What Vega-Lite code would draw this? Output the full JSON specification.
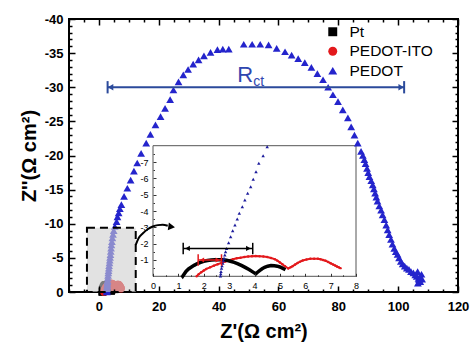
{
  "$schema": "https://vega.github.io/schema/vega-lite/v6.json",
  "width": 389,
  "height": 273,
  "autosize": "none",
  "padding": {"left": 69, "top": 19, "right": 16, "bottom": 63},
  "background": "white",
  "config": {"view": {"stroke": "black", "strokeWidth": 2}, "font": "Liberation Sans"},
  "data": {"values": [{}]},
  "datasets": {
    "pts": [
      {"s": "Pt", "x": 1.13, "y": -0.08}, {"s": "Pt", "x": 1.17, "y": 0}, {"s": "Pt", "x": 1.3, "y": -0.3}, {"s": "Pt", "x": 1.4, "y": -0.45}, {"s": "Pt", "x": 1.5, "y": -0.55}, {"s": "Pt", "x": 1.62, "y": -0.67}, {"s": "Pt", "x": 1.75, "y": -0.78}, {"s": "Pt", "x": 1.88, "y": -0.86}, {"s": "Pt", "x": 2.0, "y": -0.92}, {"s": "Pt", "x": 2.15, "y": -0.97}, {"s": "Pt", "x": 2.3, "y": -1.0}, {"s": "Pt", "x": 2.45, "y": -1.02}, {"s": "Pt", "x": 2.6, "y": -1.02}, {"s": "Pt", "x": 2.75, "y": -1.01}, {"s": "Pt", "x": 2.9, "y": -0.98}, {"s": "Pt", "x": 3.05, "y": -0.92}, {"s": "Pt", "x": 3.2, "y": -0.85}, {"s": "Pt", "x": 3.35, "y": -0.76}, {"s": "Pt", "x": 3.5, "y": -0.65}, {"s": "Pt", "x": 3.65, "y": -0.53}, {"s": "Pt", "x": 3.8, "y": -0.4}, {"s": "Pt", "x": 3.93, "y": -0.27}, {"s": "Pt", "x": 4.05, "y": -0.15}, {"s": "Pt", "x": 4.12, "y": -0.25}, {"s": "Pt", "x": 4.2, "y": -0.35}, {"s": "Pt", "x": 4.3, "y": -0.46}, {"s": "Pt", "x": 4.4, "y": -0.55}, {"s": "Pt", "x": 4.52, "y": -0.62}, {"s": "Pt", "x": 4.65, "y": -0.66}, {"s": "Pt", "x": 4.78, "y": -0.65}, {"s": "Pt", "x": 4.9, "y": -0.62}, {"s": "Pt", "x": 5.0, "y": -0.57}, {"s": "Pt", "x": 5.1, "y": -0.5}, {"s": "Pt", "x": 5.22, "y": -0.4},
      {"s": "PEDOT-ITO", "x": 1.72, "y": 0}, {"s": "PEDOT-ITO", "x": 1.8, "y": -0.13}, {"s": "PEDOT-ITO", "x": 1.9, "y": -0.25}, {"s": "PEDOT-ITO", "x": 2.0, "y": -0.35}, {"s": "PEDOT-ITO", "x": 2.1, "y": -0.45}, {"s": "PEDOT-ITO", "x": 2.25, "y": -0.55}, {"s": "PEDOT-ITO", "x": 2.4, "y": -0.65}, {"s": "PEDOT-ITO", "x": 2.55, "y": -0.74}, {"s": "PEDOT-ITO", "x": 2.7, "y": -0.82}, {"s": "PEDOT-ITO", "x": 2.85, "y": -0.9}, {"s": "PEDOT-ITO", "x": 3.0, "y": -0.98}, {"s": "PEDOT-ITO", "x": 3.15, "y": -1.04}, {"s": "PEDOT-ITO", "x": 3.3, "y": -1.1}, {"s": "PEDOT-ITO", "x": 3.45, "y": -1.14}, {"s": "PEDOT-ITO", "x": 3.6, "y": -1.18}, {"s": "PEDOT-ITO", "x": 3.75, "y": -1.21}, {"s": "PEDOT-ITO", "x": 3.9, "y": -1.23}, {"s": "PEDOT-ITO", "x": 4.05, "y": -1.24}, {"s": "PEDOT-ITO", "x": 4.2, "y": -1.23}, {"s": "PEDOT-ITO", "x": 4.35, "y": -1.21}, {"s": "PEDOT-ITO", "x": 4.5, "y": -1.18}, {"s": "PEDOT-ITO", "x": 4.65, "y": -1.12}, {"s": "PEDOT-ITO", "x": 4.8, "y": -1.05}, {"s": "PEDOT-ITO", "x": 4.9, "y": -0.96}, {"s": "PEDOT-ITO", "x": 5.0, "y": -0.85}, {"s": "PEDOT-ITO", "x": 5.1, "y": -0.74}, {"s": "PEDOT-ITO", "x": 5.2, "y": -0.62}, {"s": "PEDOT-ITO", "x": 5.33, "y": -0.48}, {"s": "PEDOT-ITO", "x": 5.42, "y": -0.55}, {"s": "PEDOT-ITO", "x": 5.5, "y": -0.62}, {"s": "PEDOT-ITO", "x": 5.6, "y": -0.72}, {"s": "PEDOT-ITO", "x": 5.7, "y": -0.82}, {"s": "PEDOT-ITO", "x": 5.8, "y": -0.9}, {"s": "PEDOT-ITO", "x": 5.9, "y": -0.97}, {"s": "PEDOT-ITO", "x": 6.05, "y": -1.03}, {"s": "PEDOT-ITO", "x": 6.2, "y": -1.07}, {"s": "PEDOT-ITO", "x": 6.35, "y": -1.08}, {"s": "PEDOT-ITO", "x": 6.5, "y": -1.07}, {"s": "PEDOT-ITO", "x": 6.6, "y": -1.04}, {"s": "PEDOT-ITO", "x": 6.7, "y": -1.0}, {"s": "PEDOT-ITO", "x": 6.8, "y": -0.95}, {"s": "PEDOT-ITO", "x": 6.9, "y": -0.88}, {"s": "PEDOT-ITO", "x": 7.0, "y": -0.8}, {"s": "PEDOT-ITO", "x": 7.1, "y": -0.72}, {"s": "PEDOT-ITO", "x": 7.18, "y": -0.66}, {"s": "PEDOT-ITO", "x": 7.25, "y": -0.6}, {"s": "PEDOT-ITO", "x": 7.32, "y": -0.55}, {"s": "PEDOT-ITO", "x": 7.39, "y": -0.5},
      {"s": "PEDOT", "x": 2.66, "y": -0.02}, {"s": "PEDOT", "x": 2.67, "y": -0.15}, {"s": "PEDOT", "x": 2.68, "y": -0.3}, {"s": "PEDOT", "x": 2.7, "y": -0.49}, {"s": "PEDOT", "x": 2.72, "y": -0.65}, {"s": "PEDOT", "x": 2.75, "y": -0.8}, {"s": "PEDOT", "x": 2.77, "y": -0.95}, {"s": "PEDOT", "x": 2.8, "y": -1.1}, {"s": "PEDOT", "x": 2.83, "y": -1.3}, {"s": "PEDOT", "x": 2.86, "y": -1.5}, {"s": "PEDOT", "x": 2.9, "y": -1.71}, {"s": "PEDOT", "x": 2.98, "y": -2.06}, {"s": "PEDOT", "x": 3.06, "y": -2.42}, {"s": "PEDOT", "x": 3.14, "y": -2.79}, {"s": "PEDOT", "x": 3.23, "y": -3.14}, {"s": "PEDOT", "x": 3.32, "y": -3.51}, {"s": "PEDOT", "x": 3.4, "y": -3.86}, {"s": "PEDOT", "x": 3.52, "y": -4.26}, {"s": "PEDOT", "x": 3.62, "y": -4.67}, {"s": "PEDOT", "x": 3.73, "y": -5.08}, {"s": "PEDOT", "x": 3.85, "y": -5.49}, {"s": "PEDOT", "x": 3.95, "y": -5.94}, {"s": "PEDOT", "x": 4.06, "y": -6.41}, {"s": "PEDOT", "x": 4.17, "y": -6.92}, {"s": "PEDOT", "x": 4.34, "y": -7.39}, {"s": "PEDOT", "x": 4.5, "y": -7.94},
      {"s": "PEDOT", "x": 4.7, "y": -8.45}, {"s": "PEDOT", "x": 4.95, "y": -9.0}, {"s": "PEDOT", "x": 5.3, "y": -9.6}, {"s": "PEDOT", "x": 5.9, "y": -10.3}, {"s": "PEDOT", "x": 6.2, "y": -11.0}, {"s": "PEDOT", "x": 6.6, "y": -11.6}, {"s": "PEDOT", "x": 7.0, "y": -12.2}, {"s": "PEDOT", "x": 7.5, "y": -12.8}, {"s": "PEDOT", "x": 8.4, "y": -14.0}, {"s": "PEDOT", "x": 9.5, "y": -15.2}, {"s": "PEDOT", "x": 10.6, "y": -16.4}, {"s": "PEDOT", "x": 11.7, "y": -17.7}, {"s": "PEDOT", "x": 12.8, "y": -18.9}, {"s": "PEDOT", "x": 14.1, "y": -20.3}, {"s": "PEDOT", "x": 15.8, "y": -21.8}, {"s": "PEDOT", "x": 17.2, "y": -23.1}, {"s": "PEDOT", "x": 18.9, "y": -24.5}, {"s": "PEDOT", "x": 20.6, "y": -25.7}, {"s": "PEDOT", "x": 22.1, "y": -26.9}, {"s": "PEDOT", "x": 23.8, "y": -28.2}, {"s": "PEDOT", "x": 24.9, "y": -29.6}, {"s": "PEDOT", "x": 26.6, "y": -30.8}, {"s": "PEDOT", "x": 28.2, "y": -31.8}, {"s": "PEDOT", "x": 29.8, "y": -32.6}, {"s": "PEDOT", "x": 31.5, "y": -33.4}, {"s": "PEDOT", "x": 33.3, "y": -34.0}, {"s": "PEDOT", "x": 35.1, "y": -34.6}, {"s": "PEDOT", "x": 37.3, "y": -35.1}, {"s": "PEDOT", "x": 39.6, "y": -35.5}, {"s": "PEDOT", "x": 41.4, "y": -35.6}, {"s": "PEDOT", "x": 43.4, "y": -35.6}, {"s": "PEDOT", "x": 48.4, "y": -36.3}, {"s": "PEDOT", "x": 51.2, "y": -36.3}, {"s": "PEDOT", "x": 53.9, "y": -36.3}, {"s": "PEDOT", "x": 56.7, "y": -36.2}, {"s": "PEDOT", "x": 59.4, "y": -35.7}, {"s": "PEDOT", "x": 62.2, "y": -35.2}, {"s": "PEDOT", "x": 64.4, "y": -34.7}, {"s": "PEDOT", "x": 66.6, "y": -34.2}, {"s": "PEDOT", "x": 68.8, "y": -33.6}, {"s": "PEDOT", "x": 71.0, "y": -32.9}, {"s": "PEDOT", "x": 73.0, "y": -32.0}, {"s": "PEDOT", "x": 74.9, "y": -31.1}, {"s": "PEDOT", "x": 76.6, "y": -30.0}, {"s": "PEDOT", "x": 78.2, "y": -28.9}, {"s": "PEDOT", "x": 79.9, "y": -27.9}, {"s": "PEDOT", "x": 81.5, "y": -26.7}, {"s": "PEDOT", "x": 83.2, "y": -25.5}, {"s": "PEDOT", "x": 84.3, "y": -24.2}, {"s": "PEDOT", "x": 85.4, "y": -23.0}, {"s": "PEDOT", "x": 86.5, "y": -21.8}, {"s": "PEDOT", "x": 87.6, "y": -20.6}, {"s": "PEDOT", "x": 88.2, "y": -20.0}, {"s": "PEDOT", "x": 88.7, "y": -19.4}, {"s": "PEDOT", "x": 89.1, "y": -18.8}, {"s": "PEDOT", "x": 89.6, "y": -18.1}, {"s": "PEDOT", "x": 90.0, "y": -17.5}, {"s": "PEDOT", "x": 90.4, "y": -16.9}, {"s": "PEDOT", "x": 91.0, "y": -16.3}, {"s": "PEDOT", "x": 91.5, "y": -15.7}, {"s": "PEDOT", "x": 91.9, "y": -15.1}, {"s": "PEDOT", "x": 92.3, "y": -14.5}, {"s": "PEDOT", "x": 92.7, "y": -13.9}, {"s": "PEDOT", "x": 93.1, "y": -13.3}, {"s": "PEDOT", "x": 93.7, "y": -12.6}, {"s": "PEDOT", "x": 94.3, "y": -12.0}, {"s": "PEDOT", "x": 94.8, "y": -11.3}, {"s": "PEDOT", "x": 95.4, "y": -10.6}, {"s": "PEDOT", "x": 96.0, "y": -9.8}, {"s": "PEDOT", "x": 96.5, "y": -9.1}, {"s": "PEDOT", "x": 97.0, "y": -8.4}, {"s": "PEDOT", "x": 97.6, "y": -7.7}, {"s": "PEDOT", "x": 98.1, "y": -7.0}, {"s": "PEDOT", "x": 98.7, "y": -6.4}, {"s": "PEDOT", "x": 99.2, "y": -5.9}, {"s": "PEDOT", "x": 99.8, "y": -5.5}, {"s": "PEDOT", "x": 100.3, "y": -5.0}, {"s": "PEDOT", "x": 100.9, "y": -4.5}, {"s": "PEDOT", "x": 101.5, "y": -4.1}, {"s": "PEDOT", "x": 102.2, "y": -3.8}, {"s": "PEDOT", "x": 102.9, "y": -3.5}, {"s": "PEDOT", "x": 103.6, "y": -3.3}, {"s": "PEDOT", "x": 104.3, "y": -3.0}, {"s": "PEDOT", "x": 105.1, "y": -2.8}, {"s": "PEDOT", "x": 105.7, "y": -2.5}, {"s": "PEDOT", "x": 106.2, "y": -2.3}, {"s": "PEDOT", "x": 106.8, "y": -2.0}, {"s": "PEDOT", "x": 107.0, "y": -1.8}, {"s": "PEDOT", "x": 107.4, "y": -1.5}, {"s": "PEDOT", "x": 106.6, "y": -1.3}, {"s": "PEDOT", "x": 107.5, "y": -2.0}, {"s": "PEDOT", "x": 107.8, "y": -2.6}, {"s": "PEDOT", "x": 106.5, "y": -3.0}, {"s": "PEDOT", "x": 108.0, "y": -1.9}
    ],
    "curve": [
      {"x": 12.3, "y": -6.9}, {"x": 13.3, "y": -7.9}, {"x": 14.7, "y": -8.6}, {"x": 16.3, "y": -9.2}, {"x": 18.0, "y": -9.6}, {"x": 19.7, "y": -9.8}, {"x": 21.3, "y": -9.85}, {"x": 23.0, "y": -9.7}
    ]
  },
  "layer": [
    {
      "layer": [
        {
          "mark": {"type": "rect", "fill": "white", "stroke": "#555555", "strokeWidth": 1},
          "encoding": {
            "x": {"datum": 0, "type": "quantitative",
              "scale": {"domain": [0, 8], "range": [84, 287], "nice": false, "zero": false},
              "axis": {"orient": "bottom", "offset": -15.7, "values": [0, 1, 2, 3, 4, 5, 6, 7, 8],
                "labelExpr": "'' + datum.value",
                "tickSize": -3, "tickColor": "#333333", "domain": false, "grid": false, "labelFont": "Liberation Sans", "labelFontSize": 9, "labelColor": "black",
                "labelPadding": 8, "labelOverlap": false, "labelFlush": false, "labelBound": false, "title": null, "zindex": 2}},
            "x2": {"datum": 8},
            "y": {"datum": 0, "type": "quantitative",
              "scale": {"domain": [0, -8], "range": [257.3, 126.7], "nice": false, "zero": false},
              "axis": {"orient": "left", "offset": -84, "values": [-1, -2, -3, -4, -5, -6, -7],
                "labelExpr": "'' + datum.value",
                "tickSize": -3, "tickColor": "#333333", "domain": false, "grid": false, "labelFont": "Liberation Sans", "labelFontSize": 9, "labelColor": "black",
                "labelPadding": 8, "labelOverlap": false, "labelFlush": false, "labelBound": false, "title": null, "zindex": 2}},
            "y2": {"datum": -8}
          }
        },
        {
          "mark": {"type": "point", "opacity": 0},
          "encoding": {
            "x": {"datum": 0, "type": "quantitative",
              "axis": {"orient": "bottom", "offset": -15.7, "values": [0.5, 1.5, 2.5, 3.5, 4.5, 5.5, 6.5, 7.5], "labels": false, "title": null, "domain": false, "grid": false, "tickSize": -1.5, "tickColor": "#333333", "zindex": 2}},
            "y": {"datum": 0, "type": "quantitative",
              "axis": {"orient": "left", "offset": -84, "values": [-0.5, -1.5, -2.5, -3.5, -4.5, -5.5, -6.5, -7.5], "labels": false, "title": null, "domain": false, "grid": false, "tickSize": -1.5, "tickColor": "#333333", "zindex": 2}}
          }
        },
        {
          "data": {"name": "pts"},
          "transform": [{"filter": "datum.s === 'PEDOT-ITO'"}],
          "mark": {"type": "line", "color": "#e3191c", "strokeWidth": 2, "point": {"filled": true, "size": 6, "color": "#e3191c"}},
          "encoding": {"x": {"field": "x", "type": "quantitative", "axis": null}, "y": {"field": "y", "type": "quantitative", "axis": null}}
        },
        {
          "data": {"name": "pts"},
          "transform": [{"filter": "datum.s === 'Pt'"}],
          "mark": {"type": "line", "color": "black", "strokeWidth": 3.5},
          "encoding": {"x": {"field": "x", "type": "quantitative", "axis": null}, "y": {"field": "y", "type": "quantitative", "axis": null}}
        },
        {
          "data": {"name": "pts"},
          "transform": [{"filter": "datum.s === 'PEDOT' && datum.y >= -8.1 && datum.x <= 8"}],
          "mark": {"type": "point", "shape": "triangle-up", "filled": true, "size": 12, "color": "#1c1c9c", "opacity": 1},
          "encoding": {"x": {"field": "x", "type": "quantitative", "axis": null}, "y": {"field": "y", "type": "quantitative", "axis": null}}
        },
        {
          "mark": {"type": "rule", "color": "black", "strokeWidth": 1.5},
          "encoding": {"x": {"datum": 1.19, "axis": null}, "x2": {"datum": 3.93}, "y": {"datum": -1.71, "axis": null}}
        },
        {
          "mark": {"type": "rule", "color": "black", "strokeWidth": 1.5},
          "encoding": {"x": {"datum": 1.19, "axis": null}, "y": {"datum": -1.35, "axis": null}, "y2": {"datum": -2.05}}
        },
        {
          "mark": {"type": "rule", "color": "black", "strokeWidth": 1.5},
          "encoding": {"x": {"datum": 3.93, "axis": null}, "y": {"datum": -1.35, "axis": null}, "y2": {"datum": -2.05}}
        },
        {
          "mark": {"type": "point", "shape": "triangle-left", "filled": true, "size": 30, "color": "black", "opacity": 1},
          "encoding": {"x": {"datum": 1.36, "axis": null}, "y": {"datum": -1.71, "axis": null}}
        },
        {
          "mark": {"type": "point", "shape": "triangle-right", "filled": true, "size": 30, "color": "black", "opacity": 1},
          "encoding": {"x": {"datum": 3.76, "axis": null}, "y": {"datum": -1.71, "axis": null}}
        },
        {
          "mark": {"type": "rule", "color": "#e3191c", "strokeWidth": 1.5},
          "encoding": {"x": {"datum": 1.78, "axis": null}, "x2": {"datum": 2.7}, "y": {"datum": -1.0, "axis": null}}
        },
        {
          "mark": {"type": "rule", "color": "#e3191c", "strokeWidth": 1.5},
          "encoding": {"x": {"datum": 1.78, "axis": null}, "y": {"datum": -0.65, "axis": null}, "y2": {"datum": -1.35}}
        },
        {
          "mark": {"type": "rule", "color": "#e3191c", "strokeWidth": 1.5},
          "encoding": {"x": {"datum": 2.7, "axis": null}, "y": {"datum": -0.65, "axis": null}, "y2": {"datum": -1.35}}
        },
        {
          "mark": {"type": "point", "shape": "triangle-left", "filled": true, "size": 24, "color": "#e3191c", "opacity": 1},
          "encoding": {"x": {"datum": 1.93, "axis": null}, "y": {"datum": -1.0, "axis": null}}
        },
        {
          "mark": {"type": "point", "shape": "triangle-right", "filled": true, "size": 24, "color": "#e3191c", "opacity": 1},
          "encoding": {"x": {"datum": 2.55, "axis": null}, "y": {"datum": -1.0, "axis": null}}
        }
      ],
      "resolve": {"axis": {"x": "independent", "y": "independent"}}
    },
    {
      "layer": [
        {
          "data": {"name": "pts"},
          "mark": {"type": "point", "filled": true, "size": 60, "opacity": 1},
          "encoding": {
            "x": {"field": "x", "type": "quantitative",
              "scale": {"domain": [-10, 120], "nice": false, "zero": false},
              "axis": {"orient": "bottom", "values": [0, 20, 40, 60, 80, 100, 120],
                "labelExpr": "'' + datum.value",
                "tickSize": -6, "tickWidth": 1.5, "tickColor": "black", "domain": false, "grid": false,
                "labelFont": "Liberation Sans", "labelFontWeight": "bold", "labelFontSize": 13, "labelColor": "black",
                "labelPadding": 14, "labelOverlap": false, "labelFlush": false, "labelBound": false,
                "title": "Z'(Ω cm²)", "titleFont": "Liberation Sans", "titleFontWeight": "bold", "titleFontSize": 20, "titleColor": "black", "titlePadding": 8, "zindex": 1}},
            "y": {"field": "y", "type": "quantitative",
              "scale": {"domain": [0, -40], "nice": false, "zero": false},
              "axis": {"orient": "left", "values": [0, -5, -10, -15, -20, -25, -30, -35, -40],
                "labelExpr": "'' + datum.value",
                "tickSize": -6, "tickWidth": 1.5, "tickColor": "black", "domain": false, "grid": false,
                "labelFont": "Liberation Sans", "labelFontWeight": "bold", "labelFontSize": 13, "labelColor": "black",
                "labelPadding": 12, "labelOverlap": false, "labelFlush": false, "labelBound": false,
                "title": "Z''(Ω cm²)", "titleFont": "Liberation Sans", "titleFontWeight": "bold", "titleFontSize": 20, "titleColor": "black", "titlePadding": 5, "zindex": 1}},
            "color": {"field": "s", "type": "nominal",
              "scale": {"domain": ["Pt", "PEDOT-ITO", "PEDOT"], "range": ["#000000", "#e3191c", "#2424cc"]},
              "legend": {"orient": "none", "legendX": 256, "legendY": 5, "title": null, "labelExpr": "datum.label === 'Pt' ? '\u00a0Pt' : datum.label", "labelFont": "Liberation Sans", "labelFontSize": 15.5, "labelColor": "black", "symbolSize": 80, "symbolStrokeWidth": 0, "rowPadding": 2.5, "labelOffset": 9}},
            "shape": {"field": "s", "type": "nominal",
              "scale": {"domain": ["Pt", "PEDOT-ITO", "PEDOT"], "range": ["square", "circle", "triangle-up"]}}
          }
        },
        {
          "mark": {"type": "rect", "fill": "#cfcfcf", "fillOpacity": 0.6, "stroke": "black", "strokeWidth": 2, "strokeDash": [8, 5]},
          "encoding": {"x": {"datum": -4, "axis": null}, "x2": {"datum": 12.3}, "y": {"datum": 0, "axis": null}, "y2": {"datum": -9.4}}
        },
        {
          "mark": {"type": "rule", "color": "#2b4a9b", "strokeWidth": 2},
          "encoding": {"x": {"datum": 2.9, "axis": null}, "x2": {"datum": 102}, "y": {"datum": -30, "axis": null}}
        },
        {
          "mark": {"type": "rule", "color": "#2b4a9b", "strokeWidth": 2},
          "encoding": {"x": {"datum": 2.9, "axis": null}, "y": {"datum": -29.1, "axis": null}, "y2": {"datum": -30.9}}
        },
        {
          "mark": {"type": "rule", "color": "#2b4a9b", "strokeWidth": 2},
          "encoding": {"x": {"datum": 102, "axis": null}, "y": {"datum": -29.1, "axis": null}, "y2": {"datum": -30.9}}
        },
        {
          "mark": {"type": "point", "shape": "triangle-left", "filled": true, "size": 40, "color": "#2b4a9b", "opacity": 1},
          "encoding": {"x": {"datum": 3.9, "axis": null}, "y": {"datum": -30, "axis": null}}
        },
        {
          "mark": {"type": "point", "shape": "triangle-right", "filled": true, "size": 40, "color": "#2b4a9b", "opacity": 1},
          "encoding": {"x": {"datum": 101, "axis": null}, "y": {"datum": -30, "axis": null}}
        },
        {
          "mark": {"type": "text", "text": "R", "font": "Liberation Sans", "fontSize": 22, "color": "#3046b0", "align": "left", "baseline": "alphabetic"},
          "encoding": {"x": {"datum": 46.2, "axis": null}, "y": {"datum": -30.7, "axis": null}}
        },
        {
          "mark": {"type": "text", "text": "ct", "font": "Liberation Sans", "fontSize": 14, "color": "#3046b0", "align": "left", "baseline": "alphabetic"},
          "encoding": {"x": {"datum": 51.6, "axis": null}, "y": {"datum": -30.2, "axis": null}}
        },
        {
          "data": {"name": "curve"},
          "mark": {"type": "line", "color": "black", "strokeWidth": 2, "interpolate": "monotone"},
          "encoding": {"x": {"field": "x", "type": "quantitative", "axis": null}, "y": {"field": "y", "type": "quantitative", "axis": null}}
        },
        {
          "mark": {"type": "point", "shape": "triangle-right", "filled": true, "size": 60, "color": "black", "opacity": 1, "angle": 8},
          "encoding": {"x": {"datum": 24.3, "axis": null}, "y": {"datum": -9.55, "axis": null}}
        },
        {
          "mark": {"type": "point", "opacity": 0},
          "encoding": {
            "x": {"datum": 0, "type": "quantitative",
              "axis": {"orient": "bottom", "values": [-10, -5, 5, 10, 15, 25, 30, 35, 45, 50, 55, 65, 70, 75, 85, 90, 95, 105, 110, 115], "labels": false, "title": null, "domain": false, "grid": false, "tickSize": -3, "tickWidth": 1.5, "tickColor": "black", "zindex": 1}},
            "y": {"datum": 0, "type": "quantitative",
              "axis": {"orient": "left", "values": [-1, -2, -3, -4, -6, -7, -8, -9, -11, -12, -13, -14, -16, -17, -18, -19, -21, -22, -23, -24, -26, -27, -28, -29, -31, -32, -33, -34, -36, -37, -38, -39], "labels": false, "title": null, "domain": false, "grid": false, "tickSize": -3, "tickWidth": 1.5, "tickColor": "black", "zindex": 1}}
          }
        },
        {
          "mark": {"type": "point", "opacity": 0},
          "encoding": {
            "x": {"datum": 0, "type": "quantitative",
              "axis": {"orient": "top", "values": [0, 20, 40, 60, 80, 100, 120], "labels": false, "title": null, "domain": false, "grid": false, "tickSize": -6, "tickWidth": 1.5, "tickColor": "black", "zindex": 1}},
            "y": {"datum": 0, "type": "quantitative",
              "axis": {"orient": "right", "values": [0, -5, -10, -15, -20, -25, -30, -35, -40], "labels": false, "title": null, "domain": false, "grid": false, "tickSize": -6, "tickWidth": 1.5, "tickColor": "black", "zindex": 1}}
          }
        },
        {
          "mark": {"type": "point", "opacity": 0},
          "encoding": {
            "x": {"datum": 0, "type": "quantitative",
              "axis": {"orient": "top", "values": [-10, -5, 5, 10, 15, 25, 30, 35, 45, 50, 55, 65, 70, 75, 85, 90, 95, 105, 110, 115], "labels": false, "title": null, "domain": false, "grid": false, "tickSize": -3, "tickWidth": 1.5, "tickColor": "black", "zindex": 1}},
            "y": {"datum": 0, "type": "quantitative",
              "axis": {"orient": "right", "values": [-1, -2, -3, -4, -6, -7, -8, -9, -11, -12, -13, -14, -16, -17, -18, -19, -21, -22, -23, -24, -26, -27, -28, -29, -31, -32, -33, -34, -36, -37, -38, -39], "labels": false, "title": null, "domain": false, "grid": false, "tickSize": -3, "tickWidth": 1.5, "tickColor": "black", "zindex": 1}}
          }
        }
      ],
      "resolve": {"axis": {"x": "independent", "y": "independent"}}
    }
  ],
  "resolve": {"scale": {"x": "independent", "y": "independent"}}
}
